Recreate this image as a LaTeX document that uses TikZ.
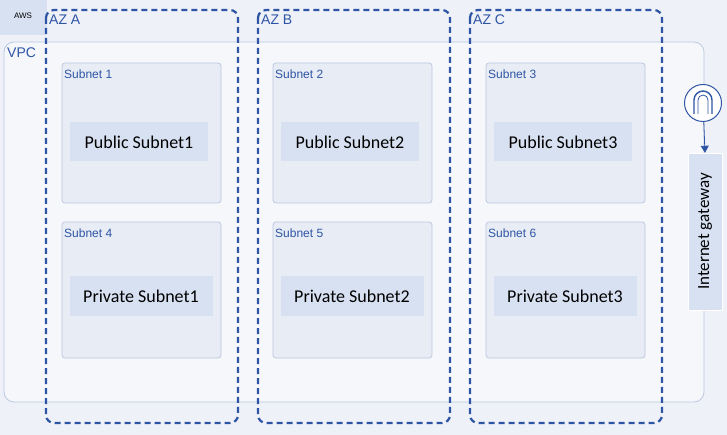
\documentclass[tikz,border=0pt]{standalone}
\usepackage{fontspec}
\setmainfont{Carlito}
\setsansfont{Liberation Sans}
\usetikzlibrary{arrows.meta}
\definecolor{bgcol}{HTML}{EEF1F7}
\definecolor{vpccol}{HTML}{F5F7FB}
\definecolor{subcol}{HTML}{E8ECF4}
\definecolor{labcol}{HTML}{D8E1F1}
\definecolor{edgecol}{HTML}{BCC8E0}
\definecolor{azcol}{HTML}{2E55A5}
\tikzset{
  subnetbox/.style={draw=edgecol, fill=subcol, rounded corners=3pt, line width=0.8pt},
  namebox/.style={fill=labcol, font=\fontsize{18}{20}\selectfont},
  azbox/.style={draw=azcol, line width=2.2pt, dash pattern=on 6pt off 4pt, rounded corners=8pt},
  tag/.style={text=azcol, font=\sffamily\fontsize{12}{13}\selectfont, anchor=north west, inner sep=1pt}
}
\begin{document}
\begin{tikzpicture}[x=1pt,y=-1pt]
  \fill[bgcol] (0,0) rectangle (727,435);
  \useasboundingbox (0,0) rectangle (727,435);
  % aws and vpc
  \fill[labcol] (0,0) rectangle (47,35);
  \node[font=\sffamily\fontsize{8}{9}\selectfont] (aws) at (23,16) {AWS};
  \draw[edgecol, fill=vpccol, rounded corners=10pt, line width=0.8pt] (4,42) rectangle (704,402);
  \node[tag, font=\sffamily\fontsize{14}{15}\selectfont] (vpc) at (6,47) {VPC};
  % subnets
  \foreach \x/\n/\m/\pa/\pb in {62/1/4/Public Subnet1/Private Subnet1, 273/2/5/Public Subnet2/Private Subnet2, 486/3/6/Public Subnet3/Private Subnet3} {
    \draw[subnetbox] (\x,63) rectangle ++(159,140);
    \node[tag] (sub\n) at (\x+1,69) {Subnet \n};
    \node[namebox, minimum width=138pt, minimum height=39pt] (pub\n) at (\x+77,142) {\pa};
    \draw[subnetbox] (\x,222) rectangle ++(159,136);
    \node[tag] (sub\m) at (\x+1,228) {Subnet \m};
    \node[namebox, minimum width=143pt, minimum height=40pt] (priv\n) at (\x+79,296) {\pb};
  }
  % availability zones
  \foreach \x/\z in {46/A, 258/B, 470/C} {
    \draw[azbox] (\x,10) rectangle ++(192,413);
    \node[tag, font=\sffamily\fontsize{14}{15}\selectfont] (az\z) at (\x+2,14) {AZ \z};
  }
  % internet gateway
  \node[draw=azcol, fill=white, circle, line width=1pt, minimum size=37pt] (igwicon) at (703,103) {};
  \draw[azcol, line width=1.4pt] (694,114) -- (694,100) arc (180:360:9) -- (712,114);
  \draw[azcol, line width=0.8pt] (698,114) -- (698,100) arc (180:360:5) -- (708,114);
  \node[fill=labcol, draw=white, minimum width=157pt, minimum height=34pt, rotate=90, font=\fontsize{17}{19}\selectfont] (igw) at (705,231.5) {Internet gateway};
  \draw[azcol, line width=0.8pt, -{Triangle[length=7pt,width=8pt]}] (igwicon) -- (igw.east);
\end{tikzpicture}
\end{document}
